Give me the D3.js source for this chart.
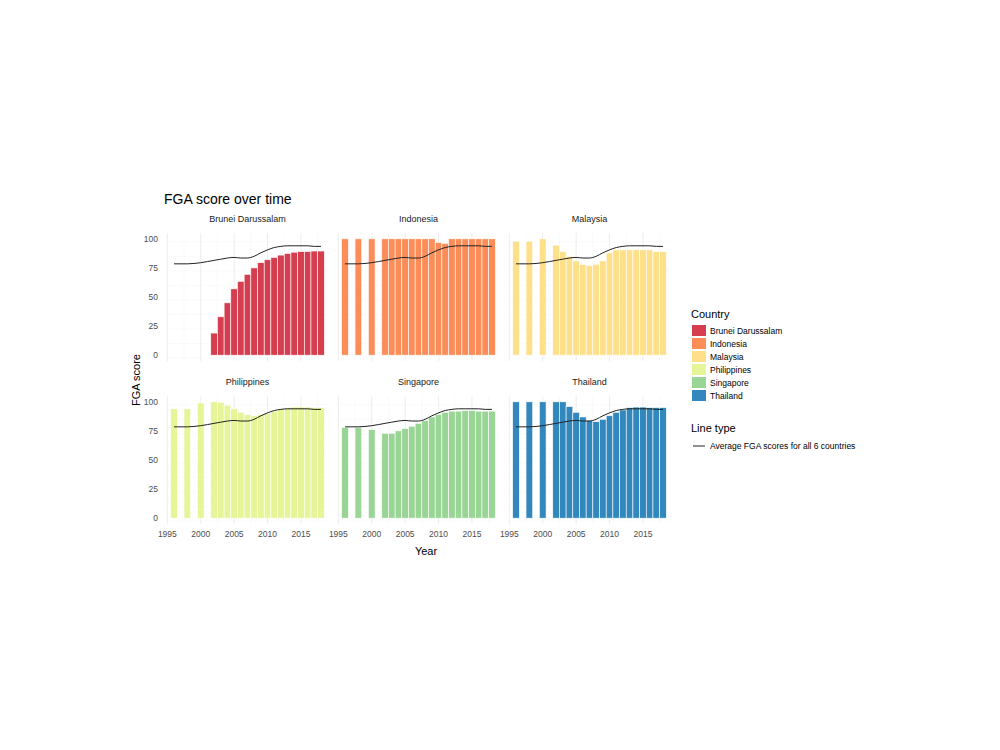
<!DOCTYPE html>
<html><head><meta charset="utf-8">
<script src="https://cdn.jsdelivr.net/npm/d3@7"></script>
<style>body{margin:0;background:#fff}svg{font-family:"Liberation Sans",Arial,sans-serif}</style>
</head><body><svg id="c" width="1000" height="750"></svg>
<script>
const years=[1996,1998,2000,2002,2003,2004,2005,2006,2007,2008,2009,2010,2011,2012,2013,2014,2015,2016,2017,2018];
const countries=["Brunei Darussalam","Indonesia","Malaysia","Philippines","Singapore","Thailand"];
const colors=["#D53E4F","#FC8D59","#FEE08B","#E6F598","#99D594","#3288BD"];
const brunei=[null,null,null,19,33,45,57,63.5,69.5,75,79.5,82,84,86,87.4,88.5,89,89,89.5,89.5];
const indonesia=[100,100,100,100,100,100,100,100,100,100,100,97,96,100,100,100,100,100,100,100];
const malaysia=[98,98,100,94.5,89,85,81,78,77,78,81,88,90.5,90.5,90.5,90.5,90.5,90.5,89,89];
const philippines=[94,94,99,100,99.5,97,94,91,89,88,89,90,92,94,95,95.5,95.5,95.5,95,95];
const singapore=[78,78,76,73,73,75,77,79,81.5,84,87,89,91,92,92,92.5,92.5,92,92,92];
const thailand=[100,100,100,100,100,96,91,87,84,83,85,88,91,93,95,95.5,95.5,95,95,95];
const average=[78.5,78.5,79.5,81.5,82.5,83.5,84,83.5,83.5,85,88,90.5,92.5,93.5,94,94,94,94,93.5,93.5];
const series=[brunei,indonesia,malaysia,philippines,singapore,thailand];
const yTicks=[0,25,50,75,100];
const xTicks=[1995,2000,2005,2010,2015];

const svg=d3.select("#c");
svg.append("text").attr("x",164).attr("y",204).attr("font-size",14).attr("fill","#000").text("FGA score over time");
const pw=161,ph=128,lefts=[167,338,509],tops=[233,396];
const x0=d3.scaleLinear().domain([1994.95,2019.05]).range([0,pw]);
const y=d3.scaleLinear().domain([-5,105]).range([ph,0]);
const yb=d3.scaleLinear().domain([0,100]).range([y(0),y(100)]);
countries.forEach((c,i)=>{
  const col=i%3,row=Math.floor(i/3);
  const g=svg.append("g").attr("transform",`translate(${lefts[col]},${tops[row]})`);
  // grid
  d3.range(-2.5,105,12.5).forEach(v=>{ if(v<-5)return;
    g.append("line").attr("x1",0).attr("x2",pw).attr("y1",y(v)).attr("y2",y(v)).attr("stroke",v%25===0?"#ebebeb":"#f5f5f5").attr("stroke-width",v%25===0?0.9:0.5);});
  d3.range(1995,2020,2.5).forEach(v=>{
    g.append("line").attr("y1",0).attr("y2",ph).attr("x1",x0(v)).attr("x2",x0(v)).attr("stroke",v%5===0?"#ebebeb":"#f5f5f5").attr("stroke-width",v%5===0?0.9:0.5);});
  g.append("text").attr("x",pw/2).attr("y",-11).attr("text-anchor","middle").attr("font-size",9).attr("fill","#1a1a1a").text(c);
  const data=years.map((yr,k)=>({yr,v:series[i][k]})).filter(d=>d.v!=null);
  g.selectAll("rect").data(data).enter().append("rect")
   .attr("x",d=>x0(d.yr-0.5)).attr("width",x0(1)-x0(0)).attr("y",d=>yb(d.v)).attr("height",d=>yb(0)-yb(d.v))
   .attr("fill",colors[i]).attr("stroke","#fff").attr("stroke-width",0.6);
  const line=d3.line().x((d,k)=>x0(years[k])).y(d=>yb(d)).curve(d3.curveMonotoneX);
  g.append("path").attr("d",line(average)).attr("fill","none").attr("stroke","#222").attr("stroke-width",1);
  if(col===0){
    yTicks.forEach(t=>g.append("text").attr("x",-9).attr("y",yb(t)+3).attr("text-anchor","end").attr("font-size",8.5).attr("fill","#4d4d4d").text(t));
  }
  if(row===1){
    xTicks.forEach(t=>g.append("text").attr("x",x0(t)).attr("y",ph+13).attr("text-anchor","middle").attr("font-size",8.5).attr("fill","#4d4d4d").text(t));
  }
});
svg.append("text").attr("x",426).attr("y",555).attr("text-anchor","middle").attr("font-size",11).text("Year");
svg.append("text").attr("transform","translate(140,380) rotate(-90)").attr("text-anchor","middle").attr("font-size",11).text("FGA score");
const lg=svg.append("g").attr("transform","translate(691,0)");
lg.append("text").attr("x",0).attr("y",318).attr("font-size",11).text("Country");
countries.forEach((c,i)=>{
  lg.append("rect").attr("x",1).attr("y",325+i*13).attr("width",14).attr("height",11).attr("fill",colors[i]);
  lg.append("text").attr("x",19).attr("y",334+i*13).attr("font-size",8.5).text(c);
});
lg.append("text").attr("x",0).attr("y",432).attr("font-size",11).text("Line type");
lg.append("line").attr("x1",2).attr("x2",14).attr("y1",446).attr("y2",446).attr("stroke","#222");
lg.append("text").attr("x",19).attr("y",449).attr("font-size",8.5).text("Average FGA scores for all 6 countries");
</script></body></html>
